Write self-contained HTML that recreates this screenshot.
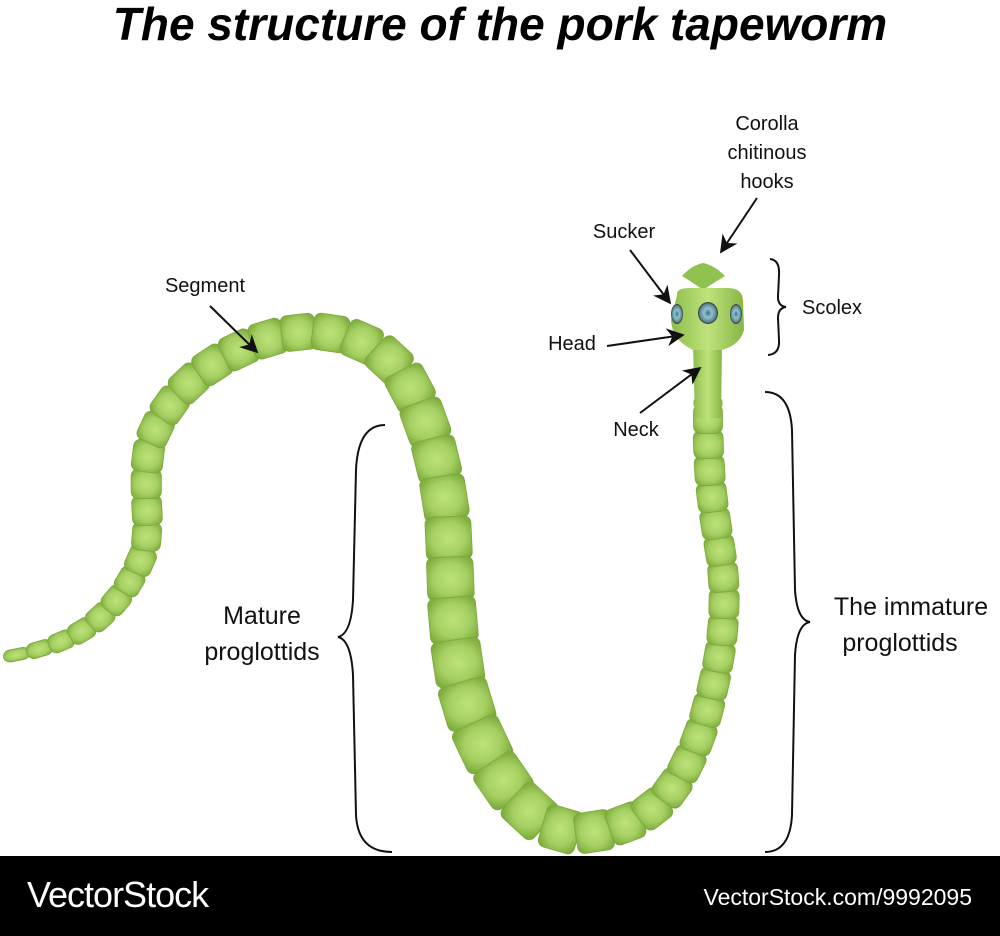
<!DOCTYPE html>
<html><head><meta charset="utf-8"><style>
body{margin:0;background:#fff;width:1000px;height:936px;overflow:hidden;font-family:"Liberation Sans",sans-serif}
svg{position:absolute;left:0;top:0}
</style></head><body>
<svg id="s" width="1000" height="936" xmlns="http://www.w3.org/2000/svg">
<defs>
<radialGradient id="g" cx="50%" cy="50%" r="60%"><stop offset="0" stop-color="#bde27a"/><stop offset="0.6" stop-color="#a6d063"/><stop offset="1" stop-color="#7fae3e"/></radialGradient>
<linearGradient id="hg" x1="0" x2="1"><stop offset="0" stop-color="#8cbd4a"/><stop offset="0.5" stop-color="#bfe27c"/><stop offset="1" stop-color="#86b644"/></linearGradient>
<radialGradient id="eye"><stop offset="0" stop-color="#3d6f7a"/><stop offset="0.4" stop-color="#8fc3cf"/><stop offset="0.8" stop-color="#5d8a95"/><stop offset="1" stop-color="#333"/></radialGradient>
<marker id="a" viewBox="0 0 10 10" refX="9" refY="5" markerWidth="9" markerHeight="9" orient="auto"><path d="M0,0 L10,5 L0,10 L3,5z" fill="#111"/></marker>
</defs>
<text x="500" y="40" text-anchor="middle" font-size="46" font-weight="bold" font-style="italic" fill="#000">The structure of the pork tapeworm</text>
<g id="worm"></g>
<path d="M693,345 L695,418 L721,418 L722,345 Z" fill="url(#hg)"/>
<path d="M682,276 Q692,265 703,263 Q714,265 725,276 Q715,282 703,290 Q692,282 682,276 Z" fill="#8fc24e"/>
<path d="M677,295 Q676,288 690,288 L728,288 Q742,288 743,300 L744,330 Q740,345 722,350 L693,350 Q672,340 671,320 Z" fill="url(#hg)"/>
<ellipse cx="677" cy="314" rx="6" ry="10" fill="url(#eye)"/>
<ellipse cx="708" cy="313" rx="10" ry="11" fill="url(#eye)"/>
<ellipse cx="736" cy="314" rx="6" ry="10" fill="url(#eye)"/>
<g stroke="#111" stroke-width="2" fill="none" marker-end="url(#a)">
<line x1="210" y1="306" x2="257" y2="352"/>
<line x1="630" y1="250" x2="670" y2="303"/>
<line x1="757" y1="198" x2="721" y2="252"/>
<line x1="607" y1="346" x2="683" y2="335"/>
<line x1="640" y1="413" x2="700" y2="368"/>
</g>
<g stroke="#111" stroke-width="2" fill="none">
<path d="M770,259 Q780,260 779,275 L778,297 Q778,306 786,307 Q778,308 778,318 L779,340 Q780,354 768,355"/>
<path d="M765,392 Q790,392 792,430 L795,590 Q797,620 810,622 Q797,624 795,655 L792,815 Q790,852 765,852"/>
<path d="M385,425 Q358,425 356,470 L353,600 Q351,634 338,637 Q351,640 353,675 L356,815 Q358,852 392,852"/>
</g>
<g font-size="20" fill="#111" text-anchor="middle">
<text x="205" y="292">Segment</text>
<text x="624" y="238">Sucker</text>
<text x="767" y="130">Corolla</text>
<text x="767" y="159">chitinous</text>
<text x="767" y="188">hooks</text>
<text x="572" y="350">Head</text>
<text x="636" y="436">Neck</text>
<text x="832" y="314">Scolex</text>
</g>
<g font-size="25" fill="#111" text-anchor="middle">
<text x="262" y="624">Mature</text>
<text x="262" y="660">proglottids</text>
<text x="911" y="615">The immature</text>
<text x="900" y="651">proglottids</text>
</g>
<rect x="0" y="856" width="1000" height="80" fill="#000"/>
<text x="27" y="907" font-size="36" fill="#fff" letter-spacing="-1">VectorStock</text>
<text x="972" y="905" font-size="23" fill="#fff" text-anchor="end">VectorStock.com/9992095</text>
</svg>
<script>
var P=[[5,657,10],[40,650,16],[70,638,20],[100,620,24],[125,590,26],[145,555,28],[148,520,30],[145,480,30],[150,440,32],[165,410,32],[185,385,34],[210,365,34],[240,348,36],[275,335,36],[320,330,36],[360,338,38],[395,360,40],[415,395,42],[428,425,44],[440,470,44],[448,520,46],[450,570,46],[452,620,48],[460,680,50],[475,730,50],[500,780,50],[530,815,46],[560,835,44],[600,833,40],[640,818,36],[670,795,34],[690,760,32],[705,720,32],[715,680,30],[722,640,30],[725,600,30],[722,560,30],[715,520,30],[710,480,30],[708,440,30],[708,400,28]];
var pts=[];
for(var i=0;i<P.length-1;i++){var a=P[i],b=P[i+1];var d=Math.hypot(b[0]-a[0],b[1]-a[1]);var n=Math.ceil(d/2);for(var k=0;k<n;k++){var t=k/n;pts.push([a[0]+(b[0]-a[0])*t,a[1]+(b[1]-a[1])*t,a[2]+(b[2]-a[2])*t]);}}
pts.push(P[P.length-1]);
var g=document.getElementById('worm'),acc=0,last=pts[0],h='';
var seg=[];
for(var i=1;i<pts.length;i++){acc+=Math.hypot(pts[i][0]-pts[i-1][0],pts[i][1]-pts[i-1][1]);var L=Math.max(22,pts[i][2]*0.85);if(acc>=L||i==pts.length-1){seg.push([last,pts[i]]);last=pts[i];acc=0;}}
seg.forEach(function(s){var a=s[0],b=s[1];var cx=(a[0]+b[0])/2,cy=(a[1]+b[1])/2;var len=Math.hypot(b[0]-a[0],b[1]-a[1])+3;var w=(a[2]+b[2])/2;var ang=Math.atan2(b[1]-a[1],b[0]-a[0])*180/Math.PI;
h+='<rect x="'+(-len/2)+'" y="'+(-w/2)+'" width="'+len+'" height="'+w+'" rx="'+Math.min(7,len/3)+'" fill="url(#g)" stroke="#7aa83a" stroke-width="0.8" transform="translate('+cx+','+cy+') rotate('+ang+')"/>';});
g.innerHTML=h;
</script>
</body></html>
